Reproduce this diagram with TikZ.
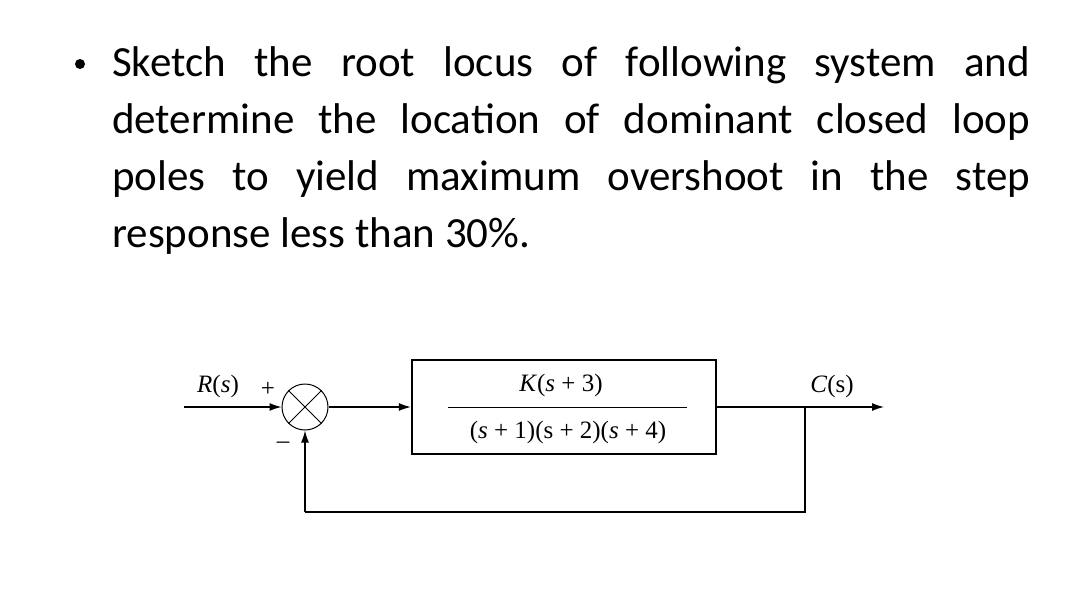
\documentclass[tikz,border=0pt]{standalone}
\usepackage{fontspec}
\setmainfont{Carlito}
\newfontfamily\tms{Liberation Serif}
\usetikzlibrary{arrows.meta}
\begin{document}
\begin{tikzpicture}[x=1pt,y=-1pt,
  sig/.style={line width=1.2pt,-{Latex[length=12pt,width=8pt]}},
  wire/.style={line width=1.2pt},
  lbl/.style={font=\tms\fontsize{25}{27}\selectfont,inner sep=0pt},
  txt/.style={anchor=base west,inner sep=0pt,font=\fontsize{43}{50}\selectfont}]
\useasboundingbox (0,0) rectangle (1080,603);
\fill[black] (80,64) circle (5);
\node[txt] (l1) at (112,76) {\makebox[918pt][s]{Sketch the root locus of following system and}};
\node[txt] (l2) at (112,133) {\makebox[918pt][s]{determine the location of dominant closed loop}};
\node[txt] (l3) at (112,190) {\makebox[918pt][s]{poles to yield maximum overshoot in the step}};
\node[txt] (l4) at (112,247) {response less than 30\%.};
% diagram
\coordinate (in) at (184,407);
\node[draw,circle,minimum size=46pt,inner sep=0pt,line width=1pt] (sum) at (305,407) {};
\draw[line width=1pt] (sum.north west) -- (sum.south east) (sum.north east) -- (sum.south west);
\node[draw,line width=2.4pt,minimum width=304pt,minimum height=94pt,inner sep=0pt] (G) at (564,407) {};
\draw[line width=1pt] (448,407) -- (687,407);
\node[lbl] (num) at (561,385) {\textit{K}(\textit{s} + 3)};
\node[lbl] (den) at (568,432) {(\textit{s} + 1)(s + 2)(\textit{s} + 4)};
\coordinate (br) at (805,407);
\coordinate (out) at (884,407);
\coordinate (fb1) at (805,512);
\coordinate (fb2) at (305,512);
\draw[sig] (in) -- (sum.west);
\draw[sig] (sum.east) -- (G.west);
\draw[wire] (G.east) -- (br);
\draw[sig] (br) -- (out);
\draw[wire] (br) -- (fb1) -- (fb2);
\draw[sig] (fb2) -- (sum.south);
\node[lbl] (R) at (218,386) {\textit{R}(\textit{s})};
\node[lbl] (C) at (832,386) {\textit{C}(s)};
\node[lbl] (plus) at (268,389) {+};
\node[lbl] (minus) at (283,445) {\textendash};
\end{tikzpicture}
\end{document}
